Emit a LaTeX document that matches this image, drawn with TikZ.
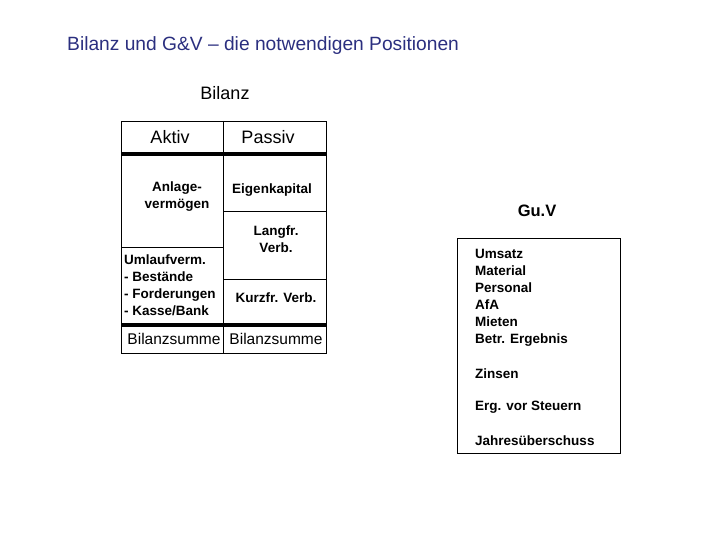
\documentclass[tikz,border=0pt]{standalone}
\usepackage{fontspec}
\setmainfont{Liberation Sans}
\definecolor{ttl}{HTML}{2B2F7F}
\begin{document}
\begin{tikzpicture}[x=1pt,y=-1pt,
  lbl/.style={inner sep=0pt,font=\fontsize{18}{21}\selectfont},
  sm/.style={inner sep=0pt,font=\bfseries\fontsize{13.5}{17}\selectfont,align=center},
  thin/.style={line width=0.8pt},
  thick2/.style={line width=3.5pt}]
\useasboundingbox (0,0) rectangle (720,540);
\node[inner sep=0pt,anchor=west,text=ttl,font=\fontsize{19.2}{22}\selectfont] (title) at (67,46) {Bilanz und G\&V – die notwendigen Positionen};
\node[lbl] (bil) at (225,93) {Bilanz};
\draw[thin] (121,121) rectangle (326,353);
\coordinate (mt) at (223,121); \coordinate (mb) at (223,353);
\draw[thin] (mt) -- (mb);
\draw[thick2] (121,154) -- (326,154);
\draw[thick2] (121,325) -- (326,325);
\draw[thin] (121,247) -- (223,247);
\draw[thin] (223,211) -- (326,211);
\draw[thin] (223,279) -- (326,279);
\node[lbl] (akt) at (170,137) {Aktiv};
\node[lbl] (pas) at (268,137) {Passiv};
\node[sm] (anl) at (177,197) {Anlage-\\vermögen};
\node[sm] (eig) at (272,190) {Eigenkapital};
\node[sm] (lan) at (276,239) {Langfr.\\Verb.};
\node[sm,align=left,anchor=north west] (uml) at (124,255) {Umlaufverm.\\- Bestände\\- Forderungen\\- Kasse/Bank};
\node[sm] (kur) at (276,298) {Kurzfr. Verb.};
\node[lbl,font=\fontsize{15.5}{18}\selectfont] (bs1) at (174,339) {Bilanzsumme};
\node[lbl,font=\fontsize{15.5}{18}\selectfont] (bs2) at (276,339) {Bilanzsumme};
\node[lbl,font=\bfseries\fontsize{16.5}{19}\selectfont] (guv) at (537,211) {Gu.V};
\draw[thin] (457,238) rectangle (620,453);
\node[sm,align=left,anchor=north west] (list) at (475,249) {Umsatz\\Material\\Personal\\AfA\\Mieten\\Betr. Ergebnis};
\node[sm,anchor=west] (zin) at (475,374) {Zinsen};
\node[sm,anchor=west] (erg) at (475,407) {Erg. vor Steuern};
\node[sm,anchor=west] (jah) at (475,441) {Jahresüberschuss};
\end{tikzpicture}
\end{document}
